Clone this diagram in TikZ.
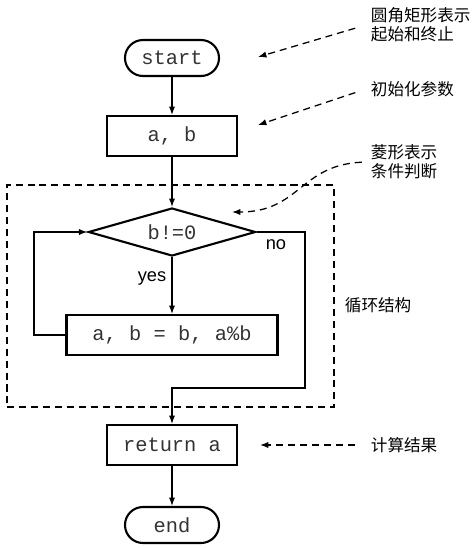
\documentclass[tikz,border=0pt]{standalone}
\usepackage{fontspec}
\setmainfont{Liberation Sans}
\setmonofont{Liberation Mono}
\newfontfamily\cjk{Noto Sans CJK SC}
\usepackage{tikz}
\usetikzlibrary{shapes.geometric, arrows.meta, positioning}
\definecolor{inkgray}{HTML}{333333}
\tikzset{
  % flowchart shapes
  term/.style={rectangle, draw=black, line width=1.5pt, rounded corners=0.45cm,
               minimum width=2.35cm, minimum height=0.9cm,
               font=\ttfamily\fontsize{14.5}{16}\selectfont, text=inkgray},
  proc/.style={rectangle, draw=black, line width=1.5pt,
               minimum width=#1, minimum height=1.0cm,
               font=\ttfamily\fontsize{14.5}{16}\selectfont, text=inkgray},
  proc/.default=3.25cm,
  decision/.style={diamond, draw=black, line width=1.5pt, aspect=3.5,
                   minimum width=4.18cm, minimum height=1.2cm, inner sep=0pt,
                   font=\ttfamily\fontsize{14.5}{16}\selectfont, text=inkgray},
  % connectors
  flow/.style={-{Latex[length=6pt,width=4.5pt]}, line width=1pt},
  note/.style={-{Latex[length=6pt,width=4.5pt]}, line width=0.9pt,
               dash pattern=on 5pt off 3.5pt},
  frame/.style={rectangle, draw=black, line width=0.9pt,
                dash pattern=on 5pt off 3.5pt},
  % labels
  lbl/.style={font=\fontsize{13}{15}\selectfont},
  cnote/.style={font=\cjk\fontsize{11.8}{13.5}\selectfont, align=left, anchor=west},
}

\begin{document}
\begin{tikzpicture}[x=0.025cm, y=-0.025cm]
\useasboundingbox (0,0) rectangle (474,548);

% ── Loop frame ───────────────────────────────────────────────────────────────
\node[frame, minimum width=8.175cm, minimum height=5.55cm] (loopbox) at (170.5,296) {};

% ── Main column ──────────────────────────────────────────────────────────────
\node[term]            (start) at (172,58)  {start};
\node[proc]            (init)  at (172,136) {a, b};
\node[decision]        (cond)  at (172,232) {b!=0};
\node[proc=5.275cm]    (body)  at (172,335) {a, b = b, a\%b};
\node[proc]            (ret)   at (172,445) {return a};
\node[term]            (stop)  at (172,525) {end};

\coordinate (loopl)  at (34,335);
\coordinate (noturn) at (305,388);
\coordinate (join)   at (172,388);

% ── Branch labels ────────────────────────────────────────────────────────────
\node[lbl] (yeslbl) at (152,278) {yes};
\node[lbl] (nolbl)  at (276,245) {no};

% ── Flow arrows ──────────────────────────────────────────────────────────────
\draw[flow] (start) -- (init);
\draw[flow] (init)  -- (cond);
\draw[flow] (cond)  -- (body);
\draw[flow] (body.west) -- (loopl) |- (cond.west);
\draw[flow] (cond.east) -| (noturn) -- (join) -- (ret);
\draw[flow] (ret)   -- (stop);

% ── Notes ────────────────────────────────────────────────────────────────────
\node[cnote] (n1) at (366,25)  {圆角矩形表示\\起始和终止};
\node[cnote] (n2) at (366,89)  {初始化参数};
\node[cnote] (n3) at (366,162) {菱形表示\\条件判断};
\node[cnote] (n4) at (340,305) {循环结构};
\node[cnote] (n5) at (366,445) {计算结果};

\coordinate (t1) at (258,57);
\coordinate (t2) at (258,125);
\coordinate (t3) at (232,212);
\coordinate (t5) at (260,445);

\draw[note, shorten <=8pt] (n1.west) -- (t1);
\draw[note, shorten <=8pt] (n2.west) -- (t2);
\draw[note, shorten <=3pt] (n3.west) .. controls (300,165) and (300,212) .. (t3);
\draw[note, shorten <=8pt] (n5.west) -- (t5);

\end{tikzpicture}
\end{document}
